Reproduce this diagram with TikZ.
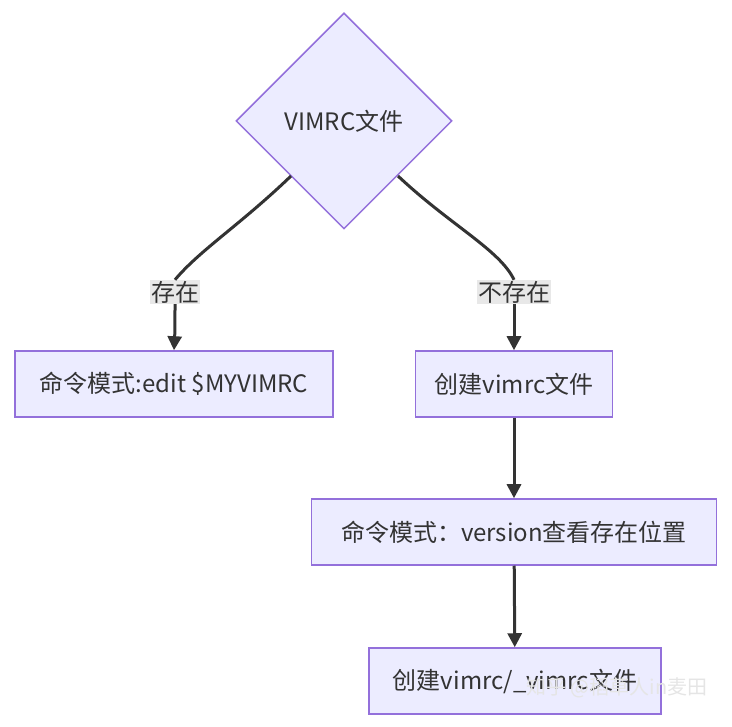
\documentclass[tikz,border=0pt]{standalone}
\usepackage{fontspec}
\setmainfont{Noto Sans CJK SC}
\usetikzlibrary{shapes.geometric,arrows.meta}
\definecolor{nfill}{HTML}{ECECFF}
\definecolor{nline}{HTML}{9370DB}
\definecolor{txt}{HTML}{333333}
\definecolor{lbl}{HTML}{E8E8E8}
\begin{document}
\begin{tikzpicture}[x=1pt,y=-1pt,
  font=\fontsize{24}{28}\selectfont, text=txt,
  box/.style={draw=nline,fill=nfill,line width=1.5pt,inner sep=0pt,minimum height=66pt},
  lab/.style={fill=lbl,inner sep=1pt,text=txt},
  ln/.style={draw=txt,line width=3pt},
  edge/.style={ln,-{Triangle[length=14pt,width=14pt]}}]
\useasboundingbox (0,0) rectangle (732,727);
\node[box,diamond,minimum width=216pt,minimum height=216pt,aspect=1] (d) at (344,121) {VIMRC文件};
\node[box,minimum width=318pt] (a) at (174,384) {命令模式:edit \$MYVIMRC};
\node[box,minimum width=197pt] (b) at (514,384) {创建vimrc文件};
\node[box,minimum width=405pt] (c) at (514,532) {命令模式：version查看存在位置};
\node[box,minimum width=292pt] (e) at (515,681) {创建vimrc/\_vimrc文件};
\node[lab] (l1) at (175,292) {存在};
\node[lab] (l2) at (514,292) {不存在};
\draw[ln] (291,176) .. controls (240,225) and (200,250) .. (l1.north);
\draw[edge] (l1.south) .. controls (175,320) and (175,330) .. (a.north);
\draw[ln] (398,176) .. controls (450,225) and (500,250) .. (l2.north);
\draw[edge] (l2.south) .. controls (514,320) and (514,330) .. (b.north);
\draw[edge] (b) -- (c);
\draw[edge] (c) -- (e);
\node[text=white!80!gray,font=\fontsize{20}{24}\selectfont] at (617,688) {知乎 @稻草人in麦田};
\end{tikzpicture}
\end{document}
